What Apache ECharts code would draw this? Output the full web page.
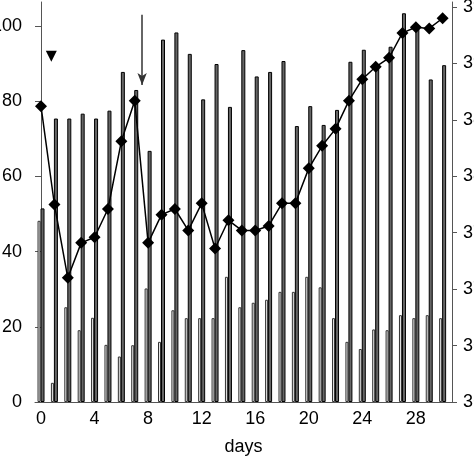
<!DOCTYPE html>
<html>
<head>
<meta charset="utf-8">
<script src="https://cdn.jsdelivr.net/npm/echarts@6/dist/echarts.min.js"></script>
<style>
	html, body { margin: 0; padding: 0; background: #fff; }
	#chart { width: 474px; height: 474px; }
</style>
</head>
<body>
<div id="chart"></div>
<script>
	// days 0..30
	var days = [];
	for(var i = 0; i <= 30; i++) {
		days.push(i);
	}
	// light (left) bar of each day
	var lightBars = [48.2, 5.1, 25.2, 19.1, 22.4, 15.2, 12.1, 15.1, 30.2, 16.0,
		24.4, 22.3, 22.3, 22.3, 33.3, 25.2, 26.4, 27.2, 29.3, 29.3,
		33.3, 30.5, 22.3, 16.0, 14.1, 19.3, 19.1, 23.1, 22.3, 23.1, 22.3];
	// dark (right) bar of each day
	var darkBars = [51.5, 75.4, 75.4, 76.7, 75.4, 77.5, 87.8, 83.0, 66.8, 96.4,
		98.3, 92.6, 80.5, 89.9, 78.5, 93.6, 86.6, 87.8, 90.7, 73.4,
		78.7, 73.7, 77.7, 90.5, 93.7, 89.6, 94.5, 103.4, 99.4, 85.8, 89.6];
	// diamond line, right axis
	var lineValues = [38.62, 37.75, 37.10, 37.41, 37.46, 37.71, 38.31, 38.67, 37.41, 37.66,
		37.71, 37.52, 37.76, 37.36, 37.61, 37.52, 37.52, 37.56, 37.76, 37.76,
		38.07, 38.27, 38.42, 38.67, 38.86, 38.97, 39.05, 39.27, 39.32, 39.31, 39.40];
	var xTicks = [0, 4, 8, 12, 16, 20, 24, 28];
	var leftTicks = [0, 20, 40, 60, 80, 100];
	var rightTicks = [36, 36.5, 37, 37.5, 38, 38.5, 39, 39.5];
	var trianglePoint = [0.92, 92];
	var arrowFrom = [7.44, 103];
	var arrowTo = [7.44, 84.3];

	function pairs(vals) {
		var out = [];
		for(var i = 0; i < vals.length; i++) {
			out.push([days[i], vals[i]]);
		}
		return out;
	}

	var font = 'Liberation Sans, Arial, sans-serif';
	var chart = echarts.init(document.getElementById('chart'));
	var option = {
		animation: false,
		grid: { left: 35, right: 22, top: 2, bottom: 72, containLabel: false, outerBoundsMode: 'none' },
		xAxis: {
			type: 'value',
			min: -0.45,
			max: 30.7,
			name: 'days',
			nameLocation: 'middle',
			nameGap: 36,
			nameTextStyle: { color: '#000', fontSize: 18, fontFamily: font },
			axisLine: { show: true, lineStyle: { color: '#555', width: 1 } },
			axisTick: { show: false },
			axisLabel: { customValues: xTicks, color: '#000', fontSize: 18, fontFamily: font, margin: 8 },
			splitLine: { show: false }
		},
		yAxis: [{
			type: 'value',
			min: 0,
			max: 106.4,
			position: 'left',
			axisLine: { show: true, lineStyle: { color: '#555', width: 1 } },
			axisTick: { show: true, customValues: leftTicks, length: 6, lineStyle: { color: '#555' } },
			axisLabel: { customValues: leftTicks, color: '#000', fontSize: 18, fontFamily: font, margin: 13 },
			splitLine: { show: false }
		}, {
			type: 'value',
			min: 36,
			max: 39.544,
			position: 'right',
			axisLine: { show: true, lineStyle: { color: '#555', width: 1 } },
			axisTick: { show: true, customValues: rightTicks, length: 5, lineStyle: { color: '#555' } },
			axisLabel: {
				customValues: rightTicks, color: '#000', fontSize: 18, fontFamily: font, margin: 11,
				formatter: function(v) { return v.toFixed(1); }
			},
			splitLine: { show: false }
		}],
		series: [{
			type: 'bar',
			yAxisIndex: 0,
			barWidth: 3,
			barGap: 0,
			data: pairs(lightBars),
			itemStyle: { color: '#e8e8e8', borderColor: '#333', borderWidth: 1 },
			markPoint: {
				symbol: 'triangle',
				symbolRotate: 180,
				symbolSize: [11, 11],
				itemStyle: { color: '#000' },
				label: { show: false },
				data: [{ coord: trianglePoint }]
			}
		}, {
			type: 'bar',
			yAxisIndex: 0,
			barWidth: 4,
			barGap: 0,
			data: pairs(darkBars),
			itemStyle: { color: '#666', borderColor: '#000', borderWidth: 1 },
			markLine: {
				silent: true,
				symbol: ['none', 'arrow'],
				symbolSize: [7, 12],
				label: { show: false },
				lineStyle: { color: '#333', width: 1.5, type: 'solid' },
				data: [[{ coord: arrowFrom }, { coord: arrowTo }]]
			}
		}, {
			type: 'line',
			yAxisIndex: 1,
			data: pairs(lineValues),
			symbol: 'diamond',
			symbolSize: [12, 12],
			itemStyle: { color: '#000' },
			lineStyle: { color: '#000', width: 1.5 },
			z: 5
		}]
	};
	chart.setOption(option);
</script>
</body>
</html>
